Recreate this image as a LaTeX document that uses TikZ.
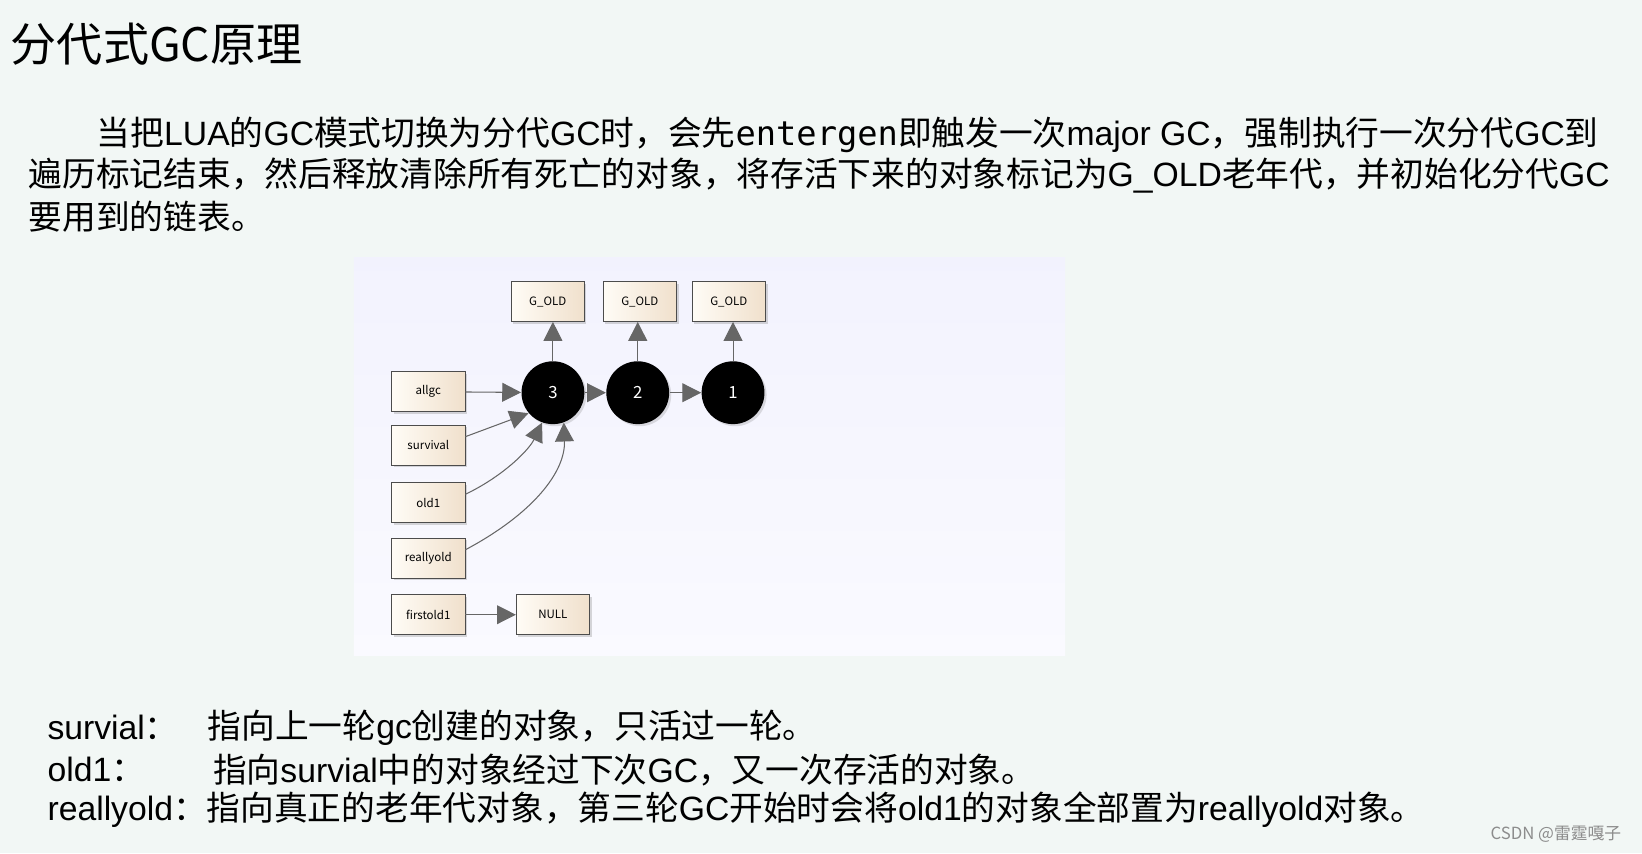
\documentclass[tikz,border=0pt]{standalone}
\usepackage{fontspec}
\setmainfont{Noto Sans CJK SC}
\newfontfamily\lat{Liberation Sans}
\newfontfamily\mono{DejaVu Sans Mono}
\usetikzlibrary{arrows.meta,shadows}
\definecolor{bg}{HTML}{F2F7F5}
\definecolor{boxa}{HTML}{FFFCF6}
\definecolor{boxb}{HTML}{F0E0CC}
\definecolor{ar}{HTML}{666666}
\begin{document}
\begin{tikzpicture}[x=0.5pt,y=-0.5pt,
  txt/.style={anchor=west,inner sep=0pt,font=\fontsize{16.1}{18}\selectfont},
  obox/.style={draw=black!70,line width=0.4pt,minimum width=35pt,minimum height=19pt,inner sep=0pt,
     left color=boxa,right color=boxb,font=\fontsize{5.5}{6}\selectfont,
     drop shadow={shadow xshift=1pt,shadow yshift=-1pt,opacity=0.3}},
  obj/.style={circle,fill=black,minimum size=30pt,inner sep=0pt,text=white,font=\fontsize{8}{9}\selectfont,
     drop shadow={shadow xshift=1pt,shadow yshift=-1pt,opacity=0.25}},
  arr/.style={draw=ar,line width=0.5pt,-{Triangle[length=9pt,width=9pt,fill=ar]}}]
\fill[bg] (0,0) rectangle (1568,815);
\useasboundingbox (0,0) rectangle (1568,815);
\node[txt,font=\fontsize{22}{24}\selectfont] (title) at (10,42) {分代式GC原理};
\node[txt] (l1) at (92,129) {当把{\lat LUA}的{\lat GC}模式切换为分代{\lat GC}时，会先{\mono entergen}即触发一次{\lat major GC}，强制执行一次分代{\lat GC}到};
\node[txt] (l2) at (27,168) {遍历标记结束，然后释放清除所有死亡的对象，将存活下来的对象标记为{\lat G\_OLD}老年代，并初始化分代{\lat GC}};
\node[txt] (l3) at (27,207) {要用到的链表。};
\shade[top color=black!12!blue!5!white,bottom color=black!3!blue!2!white] (338,246) rectangle (1017,626);
\node[obox] (allgc) at (409,374) {allgc};
\node[obox] (surv) at (409,425) {survival};
\node[obox] (old1) at (409,480) {old1};
\node[obox] (really) at (409,533) {reallyold};
\node[obox] (first) at (409,587) {firstold1};
\node[obox] (null) at (528,587) {NULL};
\node[obox] (g3) at (523,288) {G\_OLD};
\node[obox] (g2) at (611,288) {G\_OLD};
\node[obox] (g1) at (696,288) {G\_OLD};
\node[obj] (c3) at (528,375) {3};
\node[obj] (c2) at (609,375) {2};
\node[obj] (c1) at (700,375) {1};
\draw[arr] (c3) -- (g3.south -| c3);
\draw[arr] (c2) -- (g2.south -| c2);
\draw[arr] (c1) -- (g1.south -| c1);
\draw[arr] (allgc) -- (c3);
\draw[arr] (c3) -- (c2);
\draw[arr] (c2) -- (c1);
\draw[arr] (first) -- (null);
\draw[arr] (surv.east) ++(0,-8) -- (c3.220);
\draw[arr] (old1.east) ++(0,-8) .. controls (480,455) and (505,430) .. (c3.250);
\draw[arr] (really.east) ++(0,-8) .. controls (510,490) and (540,450) .. (c3.290);
\node[txt] (s1) at (45,695) {{\lat survial}：};
\node[txt] (s1t) at (198,695) {指向上一轮{\lat gc}创建的对象，只活过一轮。};
\node[txt] (s2) at (45,735) {{\lat old1}：};
\node[txt] (s2t) at (203,735) {指向{\lat survial}中的对象经过下次{\lat GC}，又一次存活的对象。};
\node[txt] (s3) at (45,773) {{\lat reallyold}：指向真正的老年代对象，第三轮{\lat GC}开始时会将{\lat old1}的对象全部置为{\lat reallyold}对象。};
\node[txt,text=black!45,font=\fontsize{8}{9}\selectfont] (csdn) at (1423,797) {CSDN @雷霆嘎子};
\end{tikzpicture}
\end{document}
